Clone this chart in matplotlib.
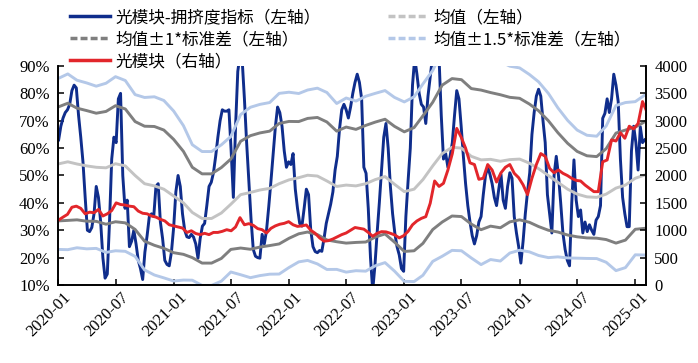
import matplotlib
matplotlib.use('Agg')
import matplotlib.pyplot as plt
import matplotlib.dates as mdates
from matplotlib.lines import Line2D
from matplotlib.ticker import FuncFormatter, MultipleLocator
from matplotlib.font_manager import FontProperties
import matplotlib.transforms as mtransforms
import pandas as pd

plt.rcParams['font.family'] = ['Liberation Serif', 'DejaVu Serif']

# 光模块-拥挤度指标 (%), weekly, left axis
crowd_start = '2020-01-03'
crowd = [
    63, 68, 71, 73, 74, 76, 81, 83, 82, 72,
    64, 55, 42, 30, 29.5, 31, 36, 46, 42, 33,
    20, 12.5, 14, 33, 56, 64, 62, 78, 80, 50,
    38, 41, 24, 26, 30, 25, 19, 16, 12, 22,
    28, 35, 36, 35, 46, 47, 33, 27, 19, 17.5,
    17, 22, 31, 44, 50, 46, 36, 30, 27.6, 27.3,
    28.5, 27.5, 25, 19.8, 27, 31.5, 32.5, 39, 46, 47.5,
    51, 57, 64, 70, 74, 73.5, 73.5, 74, 59, 42,
    68, 88, 94, 92, 78, 62, 48, 34, 23, 20.5,
    20, 19.8, 28.5, 25, 30, 38.6, 48, 58, 67.8, 75,
    73, 68, 59, 53, 55, 54, 58, 45, 38, 32.5,
    31.5, 38, 45, 43, 30, 24, 22.2, 21.8, 22.6, 22.3,
    27, 32.5, 36, 39.5, 44, 52, 57, 67, 74, 76,
    74, 71, 75, 80, 84, 87, 84, 78, 53, 50.8,
    38, 20, 8, 17, 29, 40, 52, 64, 69, 60,
    46, 36, 29, 24, 21, 16, 15, 35, 48, 60,
    83, 93, 87, 80, 76, 75, 69, 79, 86, 93,
    96, 97, 93, 72, 56, 58, 53, 57, 62, 72,
    81, 78, 68, 57, 47, 39, 33, 28, 25, 28,
    33, 35, 43, 50, 53, 50.5, 47, 42, 39, 45,
    50.5, 41, 38, 46, 51, 49, 35, 29, 24, 18,
    26, 36, 44, 51, 65, 73, 79, 81.5, 79, 70,
    62, 43, 36, 29, 50, 57, 50, 40, 29, 23,
    19, 17, 40, 55.7, 41, 35, 37.4, 29, 33, 29.5,
    32, 30, 28.5, 33.7, 35, 39, 70.9, 72.7, 78, 73,
    78, 87, 83, 77, 56, 42, 36, 31.3, 31.3, 59,
    68, 62, 52, 67.8, 62, 63,
]

# 光模块 index, biweekly, right axis
module_start = '2020-01-03'
module = [
    1187, 1240, 1290, 1420, 1440, 1400, 1300, 1330, 1320, 1380,
    1260, 1300, 1360, 1500, 1470, 1460, 1440, 1430, 1350, 1310,
    1300, 1260, 1240, 1200, 1170, 1100, 1080, 1060, 1040, 960,
    990, 940, 920, 944, 920, 960, 960, 980, 1010, 990,
    1060, 1230, 1100, 1120, 1090, 1030, 1010, 950, 1035, 1080,
    1110, 1126, 1157, 1100, 1070, 1080, 1096, 1000, 944, 860,
    800, 810, 840, 880, 920, 950, 1000, 1050, 1035, 1020,
    960, 890, 944, 974, 970, 944, 913, 860, 900, 980,
    1100, 1170, 1217, 1248, 1492, 1900, 1800, 1857, 2100, 2400,
    2860, 2700, 2500, 2230, 2200, 1930, 1950, 2200, 2100, 1880,
    2050, 2150, 2200, 2040, 1960, 1830, 1650, 1950, 2200, 2400,
    2350, 2130, 2050, 2100, 2040, 2000, 1948, 1910, 1900, 1826,
    1766, 1705, 1705, 2250, 2283, 2650, 2630, 2780, 2680, 2900,
    2850, 2950, 3350, 3160,
]

# rolling mean and std of the crowding index (%), monthly
stat_start = '2020-01-01'
mean_pct = [
    54.2, 55, 54.2, 53.5, 53, 52.8, 54.3, 53.5, 50, 47,
    46.2, 45, 42.5, 40, 36.5, 34.3, 34.3, 36.3, 39.5, 43,
    43.8, 44.7, 45.3, 47, 48.4, 49.2, 50.1, 49.8, 48, 46,
    46.5, 46.2, 47, 48.5, 49.6, 46.8, 44.1, 45, 48.5, 53.5,
    58, 60.3, 60, 57, 55.7, 55.9, 55.2, 55.8, 56, 54.5,
    52.5, 50, 47.5, 45, 43.2, 42.2, 42, 43.2, 45.4, 46.5,
    49, 50.2,
]
std_pct = [
    20.8, 21.4, 20.4, 20.2, 19.75, 20.6, 21.2, 20.8, 19.7, 21,
    21.7, 21.6, 20.7, 18.8, 16.5, 16.3, 16.3, 16.6, 16.5, 19.5,
    20.75, 20.85, 20.9, 22, 21.35, 20.5, 20.75, 21.4, 21.55, 20.2,
    21.2, 20.65, 21.3, 21, 20.95, 21.15, 21.85, 22.5, 23.3, 23.25,
    25, 25.1, 25, 24.75, 25.5, 24.4, 24.3, 22.75, 22.2, 21.6,
    21.15, 20, 18.15, 16.75, 15.6, 15, 14.9, 16.6, 20.1, 20.1,
    18.65, 19.5,
]

labels = ['光模块-拥挤度指标（左轴）', '均值±1*标准差（左轴）', '光模块（右轴）',
          '均值（左轴）', '均值±1.5*标准差（左轴）']

navy = '#0f2d8c'
red = '#e2262b'
dgray = '#7f7f7f'
lgray = '#c3c3c3'
lblue = '#b4c8e8'

crowd_s = pd.Series(crowd, index=pd.date_range(crowd_start, periods=len(crowd), freq='7D'))
module_s = pd.Series(module, index=pd.date_range(module_start, periods=len(module), freq='14D'))
stat_idx = pd.date_range(stat_start, periods=len(mean_pct), freq='MS')
mean_s = pd.Series(mean_pct, index=stat_idx)
std_s = pd.Series(std_pct, index=stat_idx)

fig = plt.figure(figsize=(6.98, 3.63), dpi=100)
ax = fig.add_axes([0.0831, 0.2149, 0.8424, 0.6033])
ax2 = ax.twinx()

lw = 2.1
ax.plot(crowd_s.index, crowd_s.values, color=navy, lw=lw)
ax.plot(mean_s.index, mean_s.values, color=lgray, lw=lw)
for k in (1, -1):
    ax.plot(mean_s.index, mean_s + k * std_s, color=dgray, lw=lw)
for k in (1.5, -1.5):
    ax.plot(mean_s.index, mean_s + k * std_s, color=lblue, lw=lw)
ax2.plot(module_s.index, module_s.values, color=red, lw=lw)

ax.set_ylim(10, 90)
ax.yaxis.set_major_locator(MultipleLocator(10))
ax.yaxis.set_major_formatter(FuncFormatter(lambda v, p: f'{v:.0f}%'))
ax2.set_ylim(0, 4000)
ax2.yaxis.set_major_locator(MultipleLocator(500))

ax.set_xlim(pd.Timestamp('2020-01-01'), pd.Timestamp('2025-02-04'))
ax.xaxis.set_major_locator(mdates.MonthLocator(bymonth=[1, 7]))
ax.xaxis.set_major_formatter(mdates.DateFormatter('%Y-%m'))

for a in (ax, ax2):
    a.spines['top'].set_visible(False)
    for s in ('left', 'right', 'bottom'):
        a.spines[s].set_linewidth(1.2)
    a.tick_params(direction='in', length=4, width=1.1, labelsize=12)
ax.tick_params(axis='y', pad=6)
ax2.tick_params(axis='y', pad=6)
ax.tick_params(axis='x', pad=3)

offset = mtransforms.ScaledTranslation(5 / 100, 0, fig.dpi_scale_trans)
for lbl in ax.get_xticklabels():
    lbl.set_rotation(45)
    lbl.set_ha('right')
    lbl.set_va('top')
    lbl.set_rotation_mode('anchor')
    lbl.set_transform(lbl.get_transform() + offset)

dash = (0, (2, 0.9))
handles = [
    Line2D([], [], color=navy, lw=2.5),
    Line2D([], [], color=dgray, lw=2.5, ls=dash),
    Line2D([], [], color=red, lw=2.5),
    Line2D([], [], color=lgray, lw=2.5, ls=dash),
    Line2D([], [], color=lblue, lw=2.5, ls=dash),
]
fig.legend(handles, labels, ncol=2, loc='upper left', bbox_to_anchor=(0.1003, 0.975),
           frameon=False, prop=FontProperties(family=['Noto Sans CJK SC', 'DejaVu Sans'], size=12),
           handlelength=2.4, handletextpad=0.35, columnspacing=4.0, labelspacing=0.3,
           borderpad=0, borderaxespad=0)

fig.savefig('out.png', dpi=100)
